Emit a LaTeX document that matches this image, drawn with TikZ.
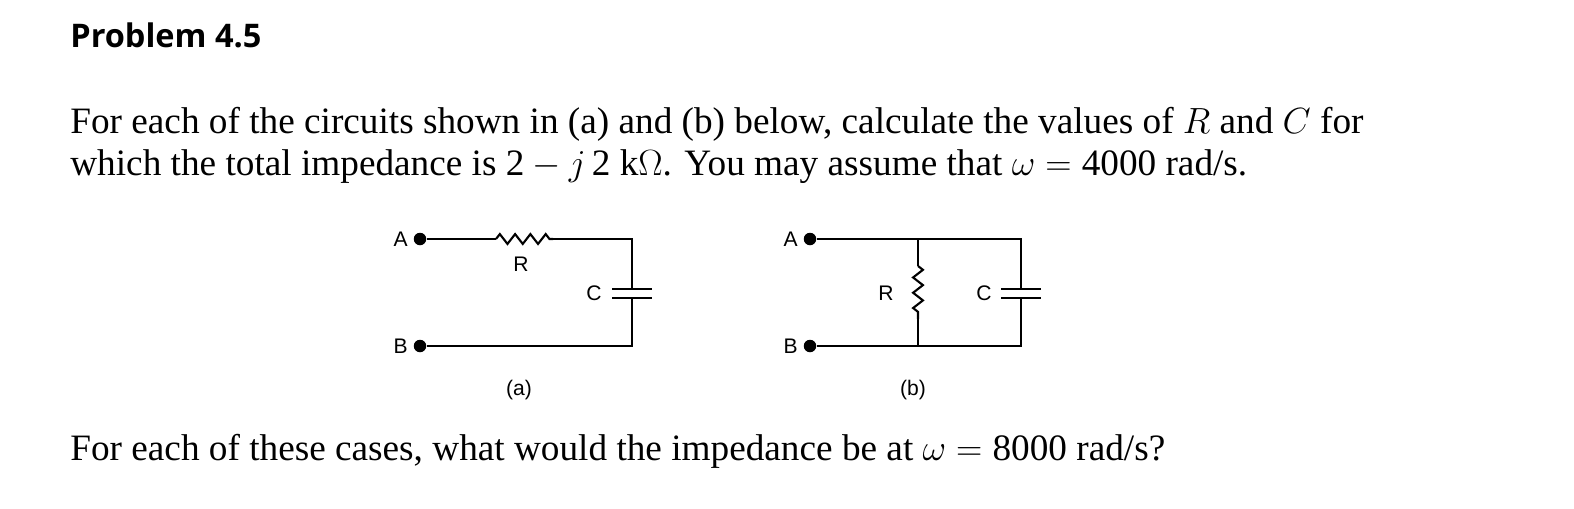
\documentclass[tikz,border=0pt]{standalone}
\usepackage{fontspec}
\setmainfont{Liberation Serif}
\newfontfamily\lsans{Liberation Sans}
\newfontfamily\hsans{Open Sans}
\usetikzlibrary{decorations.pathmorphing}
\newcommand{\tn}[1]{\mbox{\rmfamily #1}}
\begin{document}
\begin{tikzpicture}[x=0.02cm,y=-0.02cm,
  wire/.style={line width=1.2pt},
  term/.style={circle,fill=black,inner sep=0pt,minimum size=0.25cm},
  lab/.style={font=\lsans\fontsize{12}{14}\selectfont,inner sep=0pt},
  txt/.style={anchor=base west,inner sep=0pt,font=\fontsize{21.2}{26}\selectfont},
  res/.style={wire,decorate,decoration={zigzag,segment length=8.7pt,amplitude=2.8pt}}]
\useasboundingbox (0,0) rectangle (1574,508);
\node[anchor=base west,inner sep=0pt,font=\hsans\bfseries\fontsize{18.5}{22}\selectfont] (title) at (70,47) {Problem 4.5};
\node[txt] (l1) at (70,133) {For each of the circuits shown in (a) and (b) below, calculate the values of $R$ and $C$ for};
\node[txt] (l2) at (70,175) {which the total impedance is $\tn{2}-j\,\tn{2}$ k$\Omega$. You may assume that $\omega=\tn{4000}$ rad/s.};
\node[txt] (l3) at (70,460) {For each of these cases, what would the impedance be at $\omega=\tn{8000}$ rad/s?};
% circuit a
\node[term] (aA) at (420,239) {}; \node[lab,anchor=east] (aAl) at (408,239) {A};
\node[term] (aB) at (420,346) {}; \node[lab,anchor=east] (aBl) at (408,346) {B};
\coordinate (ar1) at (496,239); \coordinate (ar2) at (553,239);
\coordinate (atr) at (632,239); \coordinate (abr) at (632,346);
\coordinate (ac1) at (632,289); \coordinate (ac2) at (632,298);
\draw[wire] (aA) -- (ar1); \draw[res] (ar1) -- (ar2);
\draw[wire] (ar2) -- (atr) -- (ac1);
\draw[wire] (ac2) -- (abr) -- (aB);
\draw[wire] (612,289) -- (652,289); \draw[wire] (612,298) -- (652,298);
\node[lab] (aR) at (521,264) {R};
\node[lab] (aC) at (594,293) {C};
\node[lab] (acap) at (519,390) {(a)};
% circuit b
\node[term] (bA) at (810,239) {}; \node[lab,anchor=east] (bAl) at (798,239) {A};
\node[term] (bB) at (810,346) {}; \node[lab,anchor=east] (bBl) at (798,346) {B};
\coordinate (bt) at (918,239); \coordinate (bb) at (918,346);
\coordinate (br1) at (918,266); \coordinate (br2) at (918,319);
\coordinate (btr) at (1021,239); \coordinate (bbr) at (1021,346);
\coordinate (bc1) at (1021,289); \coordinate (bc2) at (1021,298);
\draw[wire] (bA) -- (btr) -- (bc1);
\draw[wire] (bc2) -- (bbr) -- (bB);
\draw[wire] (bt) -- (br1); \draw[res] (br1) -- (br2); \draw[wire] (br2) -- (bb);
\draw[wire] (1001,289) -- (1041,289); \draw[wire] (1001,298) -- (1041,298);
\node[lab] (bR) at (886,293) {R};
\node[lab] (bC) at (984,293) {C};
\node[lab] (bcap) at (913,390) {(b)};
\end{tikzpicture}
\end{document}
